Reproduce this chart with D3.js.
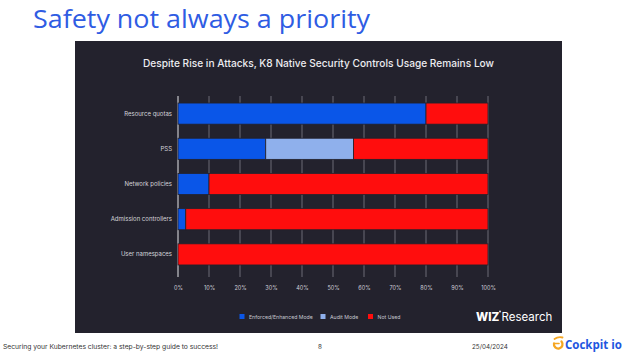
<!DOCTYPE html>
<html><head><meta charset="utf-8">
<script src="https://cdn.jsdelivr.net/npm/d3@7"></script>
<style>html,body{margin:0;padding:0;background:#fff;}svg{display:block;}</style>
</head><body>
<script>
const categories = ["Resource quotas","PSS","Network policies","Admission controllers","User namespaces"];
const enforced = [80, 28.3, 10, 2.5, 0];
const audit = [0, 28.3, 0, 0, 0];
const notUsed = [20, 43.4, 90, 97.5, 100];
const tickValues = [0,10,20,30,40,50,60,70,80,90,100];
const tickLabels = ["0%","10%","20%","30%","40%","50%","60%","70%","80%","90%","100%"];
const seriesNames = ["Enforced/Enhanced Mode","Audit Mode","Not Used"];
const seriesColors = ["#0a56e8","#8fb0ec","#ff0d0d"];

const W = 638, H = 359;
const svg = d3.select("body").append("svg").attr("width", W).attr("height", H);
svg.append("rect").attr("width", W).attr("height", H).attr("fill", "#ffffff");

// Slide title
svg.append("text").attr("x", 33).attr("y", 27.5)
  .attr("font-family", "'Open Sans', sans-serif").attr("font-size", 26).attr("font-weight", 500)
  .attr("fill", "#2f5ce3").attr("textLength", 337).attr("lengthAdjust", "spacingAndGlyphs")
  .text("Safety not always a priority");

// Dark panel
svg.append("rect").attr("x", 75).attr("y", 41).attr("width", 487).attr("height", 292).attr("fill", "#23222d");

// Chart title
svg.append("text").attr("x", 318.5).attr("y", 66.5).attr("text-anchor", "middle")
  .attr("font-family", "Inter, sans-serif").attr("font-size", 10.5).attr("font-weight", 500)
  .attr("fill", "#ececf0").attr("textLength", 351).attr("lengthAdjust", "spacingAndGlyphs")
  .text("Despite Rise in Attacks, K8 Native Security Controls Usage Remains Low");

const x = d3.scaleLinear().domain([0, 100]).range([178, 488]);
const y = d3.scaleBand().domain(categories).range([96, 272]).paddingInner(0.4).paddingOuter(0.2);

// Gridlines
svg.append("g").selectAll("line").data(tickValues).join("line")
  .attr("x1", d => x(d)).attr("x2", d => x(d))
  .attr("y1", 96).attr("y2", 277)
  .attr("stroke", d => d === 0 ? "#e6e6ea" : "#6c6b76").attr("stroke-width", 1);

// Stacked bars
const rows = categories.map((c, i) => ({cat: c, vals: [enforced[i], audit[i], notUsed[i]]}));
const segs = [];
rows.forEach(r => { let acc = 0; r.vals.forEach((v, k) => { if (v > 0) segs.push({cat: r.cat, x0: acc, x1: acc + v, k}); acc += v; }); });
svg.append("g").selectAll("rect").data(segs).join("rect")
  .attr("x", d => x(d.x0)).attr("width", d => x(d.x1) - x(d.x0))
  .attr("y", d => y(d.cat)).attr("height", y.bandwidth())
  .attr("fill", d => seriesColors[d.k])
  .attr("stroke", "#23222d").attr("stroke-width", 0.8);

// Y labels
svg.append("g").selectAll("text").data(categories).join("text")
  .attr("x", 172).attr("y", d => y(d) + y.bandwidth() / 2 + 2)
  .attr("text-anchor", "end").attr("font-family", "Inter, sans-serif").attr("font-size", 6)
  .attr("fill", "#d4d4da").text(d => d);

// X axis labels
const xAxis = d3.axisBottom(x).tickValues(tickValues).tickFormat((d, i) => tickLabels[i]).tickSize(0);
const gx = svg.append("g").attr("transform", "translate(0,283)").call(xAxis);
gx.select(".domain").remove();
gx.selectAll("text").attr("font-family", "Inter, sans-serif").attr("font-size", 5.5).attr("fill", "#d0d0d8");

// Legend
const legendX = [239.5, 320.5, 368];
const lg = svg.append("g").selectAll("g").data(seriesNames).join("g")
  .attr("transform", (d, i) => `translate(${legendX[i]},314)`);
lg.append("rect").attr("width", 5).attr("height", 5).attr("fill", (d, i) => seriesColors[i]);
lg.append("text").attr("x", 9.5).attr("y", 4.6).attr("font-family", "Inter, sans-serif")
  .attr("font-size", 5.2).attr("fill", "#c8c8d0").text(d => d);

// WIZ Research
svg.append("text").attr("x", 476).attr("y", 320.5).attr("font-family", "Inter, sans-serif")
  .attr("font-size", 11.5).attr("font-weight", 800).attr("fill", "#ffffff").text("WIZ");
svg.append("circle").attr("cx", 500).attr("cy", 311.5).attr("r", 0.9).attr("fill", "#ffffff");
svg.append("text").attr("x", 501.5).attr("y", 320.5).attr("font-family", "Inter, sans-serif")
  .attr("font-size", 11.5).attr("font-weight", 400).attr("fill", "#ffffff").text("Research");

// Footer
const foot = svg.append("g").attr("font-family", "Inter, sans-serif").attr("font-size", 6.3).attr("fill", "#333");
foot.append("text").attr("x", 3).attr("y", 349).attr("textLength", 215).attr("lengthAdjust", "spacingAndGlyphs")
  .text("Securing your Kubernetes cluster: a step-by-step guide to success!");
foot.append("text").attr("x", 318).attr("y", 349).text("8");
foot.append("text").attr("x", 472).attr("y", 349).text("25/04/2024");

// Cockpit io logo
const logo = svg.append("g").attr("fill", "none").attr("stroke", "#f5a623").attr("stroke-linecap", "round");
logo.append("path").attr("d", "M561.5,341.5 A4.3,4.3 0 1,1 554,343.5").attr("stroke-width", 2.3);
logo.append("path").attr("d", "M554.5,339 Q558,336.5 562.5,337.5").attr("stroke-width", 1.8);
logo.append("path").attr("d", "M555,343.5 L559,343.5").attr("stroke-width", 1.6);
svg.append("text").attr("x", 565).attr("y", 349).attr("font-family", "'Open Sans', sans-serif")
  .attr("font-size", 11.5).attr("font-weight", 700).attr("fill", "#1f57e0").text("Cockpit io");
</script>
</body></html>
